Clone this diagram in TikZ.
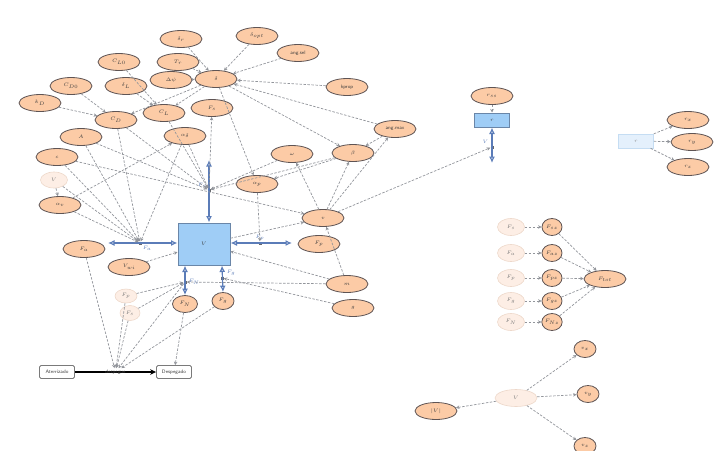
\documentclass[tikz,border=0pt]{standalone}
\usetikzlibrary{arrows.meta, shapes.geometric, positioning}
\definecolor{color_var}{HTML}{FCCBA6}
\definecolor{color_var_edge}{HTML}{5E5454}
\definecolor{color_ghost}{HTML}{FDEEE5}
\definecolor{color_ghost_edge}{HTML}{EDD8CA}
\definecolor{color_stock}{HTML}{9FCDF6}
\definecolor{color_stock_edge}{HTML}{6A86A8}
\definecolor{color_ghost_stock}{HTML}{E4F0FC}
\definecolor{color_ghost_stock_edge}{HTML}{C5DDF3}
\definecolor{color_flow}{HTML}{5B7CB8}
\definecolor{color_link}{HTML}{92959B}
\definecolor{color_text}{HTML}{3C3C3C}
\definecolor{color_state_edge}{HTML}{7A7A7A}
\tikzset{
  var_node/.style={ellipse, draw=color_var_edge, fill=color_var, line width=0.8pt, minimum width=42pt, minimum height=17pt, inner sep=0pt, font=\tiny\sffamily, text=color_text},
  ghost_node/.style={ellipse, draw=color_ghost_edge, fill=color_ghost, line width=0.6pt, minimum width=27pt, minimum height=16pt, inner sep=0pt, font=\tiny\sffamily, text=color_text!70},
  stock_node/.style={rectangle, draw=color_stock_edge, fill=color_stock, line width=1pt, inner sep=0pt, font=\tiny\sffamily, text=color_text},
  ghost_stock/.style={rectangle, draw=color_ghost_stock_edge, fill=color_ghost_stock, line width=0.6pt, minimum width=35pt, minimum height=14pt, inner sep=0pt, font=\tiny\sffamily, text=color_text!60},
  state_node/.style={rectangle, rounded corners=1.5pt, draw=color_state_edge, fill=white, line width=0.8pt, minimum width=35pt, minimum height=13pt, inner sep=0pt, font=\tiny\sffamily, text=color_text},
  valve_dot/.style={rectangle, fill=color_link!70!black, inner sep=0pt, minimum size=3pt},
  flow_label/.style={font=\tiny\sffamily, text=color_flow, inner sep=1pt},
  link_arrow/.style={-{Stealth[length=3.5pt, width=3.5pt]}, draw=color_link, line width=0.7pt, dash pattern=on 2.5pt off 1.5pt},
  flow_arrow/.style={{Latex[open, length=6.5pt, width=6pt]}-{Latex[open, length=6.5pt, width=6pt]}, draw=color_flow, line width=1.2pt},
  transition_arrow/.style={-{Stealth[length=6pt, width=5.5pt]}, draw=black, line width=1.3pt},
}

\begin{document}
\begin{tikzpicture}[x=1pt, y=-1pt]
    \useasboundingbox (0,0) rectangle (727,450);

    % variables round delta
    \node[var_node] (d_r)     at (181,39)  {$\delta_r$};
    \node[var_node] (d_opt)   at (257,36)  {$\delta_{opt}$};
    \node[var_node] (ang_sel) at (298,53)  {ang.sel};
    \node[var_node] (tr)      at (178,62)  {$T_r$};
    \node[var_node] (cl0)     at (119,62)  {$C_{L0}$};
    \node[var_node] (d_psi)   at (171,80)  {$\Delta\psi$};
    \node[var_node] (delta)   at (216,79)  {$\delta$};
    \node[var_node] (kprop)   at (347,87)  {kprop};
    \node[var_node] (cd0)     at (71,86)   {$C_{D0}$};
    \node[var_node] (dl)      at (126,86)  {$\delta_L$};
    \node[var_node] (kd)      at (40,103)  {$k_D$};
    \node[var_node] (fs)      at (212,108) {$F_s$};
    \node[var_node] (cl)      at (164,113) {$C_L$};
    \node[var_node] (cd)      at (116,120) {$C_D$};
    \node[var_node] (ang_max) at (395,129) {ang.max};
    \node[var_node] (area)    at (81,137)  {$A$};
    \node[var_node] (ad)      at (185,136) {$\alpha_\delta$};
    \node[var_node] (omega)   at (292,154) {$\omega$};
    \node[var_node] (beta)    at (353,153) {$\beta$};
    \node[var_node] (chord)   at (57,157)  {$c$};
    \node[ghost_node] (vg)    at (54,180)  {$V$};
    \node[var_node] (ap)      at (257,184) {$\alpha_p$};
    \node[var_node] (av)      at (60,205)  {$\alpha_v$};
    \node[var_node] (v)       at (323,218) {$v$};
    \node[var_node] (fa)      at (84,249)  {$F_a$};
    \node[var_node] (fp)      at (319,244) {$F_p$};
    \node[var_node] (vwi)     at (129,267) {$V_{wi}$};
    \node[var_node] (mass)    at (347,284) {$m$};
    \node[var_node] (grav)    at (353,308) {$g$};
    \node[ghost_node, minimum width=22pt, minimum height=14pt] (fp_gh) at (126,296) {$F_p$};
    \node[ghost_node, minimum width=20pt, minimum height=15pt] (fs_gh) at (130,313) {$F_s$};
    \node[var_node, minimum width=25pt] (fn) at (185,304) {$F_N$};
    \node[var_node, minimum width=22pt] (fg) at (223,301) {$F_g$};

    % stock V and its flows
    \node[stock_node, minimum width=52pt, minimum height=42pt] (vel) at (204,244) {$V$};
    \coordinate (fs_end) at (209,160);
    \coordinate (fa_end) at (108,243);
    \coordinate (fp_end) at (292,243);
    \node[valve_dot] (v_fs) at (209,190) {};
    \node[valve_dot] (v_fa) at (140,243) {};
    \node[valve_dot] (v_fp) at (260,243) {};
    \node[valve_dot] (v_fn) at (185,282) {};
    \node[valve_dot] (v_fg) at (222,278) {};
    \draw[flow_arrow] (fs_end) -- (vel.north -| fs_end);
    \draw[flow_arrow] (fa_end) -- (vel.west |- fa_end);
    \draw[flow_arrow] (vel.east |- fp_end) -- (fp_end);
    \draw[flow_arrow] (vel.south -| v_fn) -- (fn.north);
    \draw[flow_arrow] (vel.south -| v_fg) -- (fg.north);
    \node[flow_label, above left=0pt and 0pt of v_fs] (lbl_fs) {$F_s$};
    \node[flow_label, below right=0pt and 0pt of v_fa] (lbl_fa) {$F_a$};
    \node[flow_label, above=0pt of v_fp] (lbl_fp) {$F_p$};
    \node[flow_label, right=1pt of v_fn] (lbl_fn) {$F_N$};
    \node[flow_label, above right=0pt and 2pt of v_fg] (lbl_fg) {$F_g$};

    % links
    \draw[link_arrow] (d_r) -- (delta);
    \draw[link_arrow] (tr) -- (delta);
    \draw[link_arrow] (d_opt) -- (delta);
    \draw[link_arrow] (ang_sel) -- (delta);
    \draw[link_arrow] (kprop) -- (delta);
    \draw[link_arrow] (ang_max) -- (delta);
    \draw[link_arrow] (d_psi) -- (delta);
    \draw[link_arrow] (delta) -- (cl);
    \draw[link_arrow] (delta) -- (cd);
    \draw[link_arrow] (delta) -- (beta);
    \draw[link_arrow] (delta) -- (ap);
    \draw[link_arrow] (cl0) -- (cl);
    \draw[link_arrow] (dl) -- (cl);
    \draw[link_arrow] (cd0) -- (cd);
    \draw[link_arrow] (kd) -- (cd);
    \draw[link_arrow] (ang_max) -- (beta);
    \draw[link_arrow] (v) -- (beta);
    \draw[link_arrow] (v) -- (ang_max);
    \draw[link_arrow] (v) -- (omega);
    \draw[link_arrow] (beta) -- (ap);
    \draw[link_arrow] (ap) -- (v_fp);
    \draw[link_arrow] (omega) -- (v_fs);
    \draw[link_arrow] (beta) -- (v_fs);
    \draw[link_arrow] (cl) -- (v_fs);
    \draw[link_arrow] (cd) -- (v_fs);
    \draw[link_arrow] (cd) -- (v_fa);
    \draw[link_arrow] (area) -- (v_fs);
    \draw[link_arrow] (area) -- (v_fa);
    \draw[link_arrow] (chord) -- (v_fa);
    \draw[link_arrow] (chord) -- (v);
    \draw[link_arrow] (ad) -- (v_fs);
    \draw[link_arrow] (ad) -- (v_fa);
    \draw[link_arrow] (av) -- (ad);
    \draw[link_arrow] (av) -- (v_fa);
    \draw[link_arrow] (vg) -- (av);
    \draw[link_arrow] (vg) -- (v_fa);
    \draw[link_arrow] (v_fs) -- (fs);
    \draw[link_arrow] (vwi) -- (vel);
    \draw[link_arrow] (vel) -- (v);
    \draw[link_arrow] (mass) -- (vel);
    \draw[link_arrow] (mass) -- (v_fn);
    \draw[link_arrow] (mass) -- (v);
    \draw[link_arrow] (grav) -- (v_fg);
    \draw[link_arrow] (fp_gh) -- (v_fn);
    \draw[link_arrow] (fs_gh) -- (v_fn);

    % landed / airborne
    \node[state_node] (landed)   at (57,372)  {Aterrizado};
    \node[state_node] (airborne) at (174,372) {Despegado};
    \draw[transition_arrow] (landed) -- (airborne) node[midway, font=\tiny\sffamily, text=color_text, inner sep=1pt] (takeoff) {despegue};
    \draw[link_arrow] (fa) -- (takeoff);
    \draw[link_arrow] (fp_gh) -- (takeoff);
    \draw[link_arrow] (fs_gh) -- (takeoff);
    \draw[link_arrow] (v_fn) -- (takeoff);
    \draw[link_arrow] (fg) -- (takeoff);
    \draw[link_arrow] (fn) -- (airborne);

    % stock r
    \node[var_node] (r_ss) at (492,96) {$r_{ss}$};
    \node[stock_node, minimum width=35pt, minimum height=14pt] (pos) at (492,120) {$r$};
    \coordinate (pv_end) at (492,163);
    \node[valve_dot] (v_pv) at (492,147) {};
    \draw[flow_arrow] (pv_end) -- (pos.south);
    \node[flow_label, above left=1pt and 1pt of v_pv] (lbl_pv) {$V$};
    \draw[link_arrow] (v) -- (v_pv);
    \draw[link_arrow] (r_ss) -- (pos);

    % components of r
    \node[ghost_stock] (pos_gh) at (636,141) {$r$};
    \node[var_node] (rx) at (688,120) {$r_x$};
    \node[var_node] (ry) at (692,142) {$r_y$};
    \node[var_node] (rz) at (688,167) {$r_z$};
    \draw[link_arrow] (pos_gh) -- (rx);
    \draw[link_arrow] (pos_gh) -- (ry);
    \draw[link_arrow] (pos_gh) -- (rz);

    % total force
    \node[ghost_node, minimum height=17pt] (fs_g2) at (511,227) {$F_s$};
    \node[ghost_node, minimum height=17pt] (fa_g2) at (511,253) {$F_a$};
    \node[ghost_node, minimum height=17pt] (fp_g2) at (511,278) {$F_p$};
    \node[ghost_node, minimum height=17pt] (fg_g2) at (511,301) {$F_g$};
    \node[ghost_node, minimum height=17pt] (fn_g2) at (511,322) {$F_N$};
    \node[var_node, minimum width=20pt] (fsz) at (552,227) {$F_{sz}$};
    \node[var_node, minimum width=20pt] (faz) at (552,253) {$F_{az}$};
    \node[var_node, minimum width=20pt] (fpz) at (552,278) {$F_{pz}$};
    \node[var_node, minimum width=20pt] (fgz) at (552,301) {$F_{gz}$};
    \node[var_node, minimum width=20pt] (fnz) at (552,322) {$F_{Nz}$};
    \node[var_node] (ftot) at (605,279) {$F_{tot}$};
    \draw[link_arrow] (fs_g2) -- (fsz);
    \draw[link_arrow] (fa_g2) -- (faz);
    \draw[link_arrow] (fp_g2) -- (fpz);
    \draw[link_arrow] (fg_g2) -- (fgz);
    \draw[link_arrow] (fn_g2) -- (fnz);
    \draw[link_arrow] (fsz) -- (ftot);
    \draw[link_arrow] (faz) -- (ftot);
    \draw[link_arrow] (fpz) -- (ftot);
    \draw[link_arrow] (fgz) -- (ftot);
    \draw[link_arrow] (fnz) -- (ftot);

    % components of V
    \node[ghost_node, minimum width=42pt, minimum height=17pt] (vg2) at (516,398) {$V$};
    \node[var_node, minimum width=22pt] (vx) at (585,349) {$v_x$};
    \node[var_node, minimum width=22pt] (vy) at (588,394) {$v_y$};
    \node[var_node, minimum width=22pt] (vz) at (585,446) {$v_z$};
    \node[var_node] (v_abs) at (436,411) {$|V|$};
    \draw[link_arrow] (vg2) -- (vx);
    \draw[link_arrow] (vg2) -- (vy);
    \draw[link_arrow] (vg2) -- (vz);
    \draw[link_arrow] (vg2) -- (v_abs);
  \end{tikzpicture}
\end{document}
